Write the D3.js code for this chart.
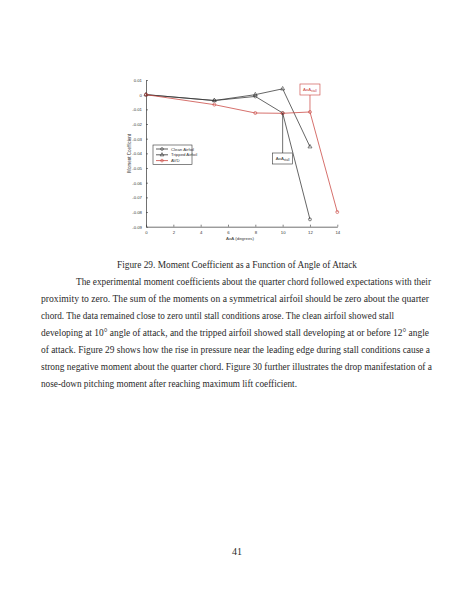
<html>
<head>
    <script src="https://d3js.org/d3.v7.min.js"></script>
    <style>
        body { margin: 0; background: #fff; }
    </style>
</head>

<body>
    <div id="cont"></div>

    <script>
        // data
        var aoa = [0, 5, 8, 10, 12];
        var cleanCm = [0, -0.004, -0.0012, -0.0125, -0.085];
        var trippedCm = [0, -0.004, 0.0, 0.004, -0.0355];
        var aoaAvd = [0, 5, 8, 10, 12, 14];
        var avdCm = [0, -0.0068, -0.0125, -0.0127, -0.0118, -0.080];
        var seriesNames = ["Clean Airfoil", "Tripped Airfoil", "AVD"];
        var xTicks = [0, 2, 4, 6, 8, 10, 12, 14];
        var yTicks = [0.01, 0, -0.01, -0.02, -0.03, -0.04, -0.05, -0.06, -0.07, -0.08, -0.09];
        var stallClean = [10, -0.0125];
        var stallAvd = [12, -0.0118];

        var caption = "Figure 29. Moment Coefficient as a Function of Angle of Attack";
        var paragraph = [
            "The experimental moment coefficients about the quarter chord followed expectations with their",
            "proximity to zero. The sum of the moments on a symmetrical airfoil should be zero about the quarter",
            "chord. The data remained close to zero until stall conditions arose. The clean airfoil showed stall",
            "developing at 10\u00b0 angle of attack, and the tripped airfoil showed stall developing at or before 12\u00b0 angle",
            "of attack. Figure 29 shows how the rise in pressure near the leading edge during stall conditions cause a",
            "strong negative moment about the quarter chord. Figure 30 further illustrates the drop manifestation of a",
            "nose-down pitching moment after reaching maximum lift coefficient."
        ];
        var lineStart = [76, 41, 41, 41, 41, 41, 41];
        var lineEnd = [431, 429, 394, 429, 430, 432, 297];

        var red = "#c8413c";
        var ink = "#333";
        var chartFont = "Liberation Sans, Arial, sans-serif";
        var textFont = "Liberation Serif, Times New Roman, serif";

        var svg = d3.select("#cont").append("svg")
            .attr("width", 474)
            .attr("height", 613);
        svg.append("rect").attr("width", 474).attr("height", 613).attr("fill", "#fff");

        var x = d3.scaleLinear().domain([0, 14]).range([146, 337.3]);
        var y = d3.scaleLinear().domain([-0.09, 0.01]).range([226.7, 80]);

        // axes, matlab style with inward ticks
        svg.append("g")
            .attr("transform", "translate(0," + y(-0.09) + ")")
            .call(d3.axisBottom(x).tickValues(xTicks).tickSizeInner(-2).tickSizeOuter(0).tickPadding(4));
        svg.append("g")
            .attr("transform", "translate(" + x(0) + ",0)")
            .call(d3.axisLeft(y).tickValues(yTicks).tickSizeInner(-2).tickSizeOuter(0).tickPadding(4)
                .tickFormat(function (d) { return d === 0 ? "0" : d.toFixed(2); }));
        svg.selectAll(".domain").attr("stroke", ink).attr("stroke-width", 0.7);
        svg.selectAll(".tick line").attr("stroke", ink).attr("stroke-width", 0.6);
        svg.selectAll(".tick text").attr("font-family", chartFont).attr("font-size", 4.3).attr("fill", ink);

        svg.append("text")
            .attr("transform", "translate(131," + y(-0.04) + ") rotate(-90)")
            .attr("text-anchor", "middle")
            .attr("font-family", chartFont).attr("font-size", 4.5).attr("fill", ink)
            .text("Moment Coefficient");
        svg.append("text")
            .attr("x", 240).attr("y", 240)
            .attr("text-anchor", "middle")
            .attr("font-family", chartFont).attr("font-size", 4.4).attr("fill", ink)
            .text("AoA (degrees)");

        var line = d3.line()
            .x(function (d) { return x(d[0]); })
            .y(function (d) { return y(d[1]); });

        var series = [
            { pts: d3.zip(aoa, cleanCm), color: ink, mark: "circle" },
            { pts: d3.zip(aoa, trippedCm), color: ink, mark: "triangle" },
            { pts: d3.zip(aoaAvd, avdCm), color: red, mark: "circle" }
        ];

        var symbolFor = function (m, s) {
            return d3.symbol().type(m === "circle" ? d3.symbolCircle : d3.symbolTriangle).size(s)();
        };

        series.forEach(function (s) {
            svg.append("path")
                .attr("d", line(s.pts))
                .attr("fill", "none")
                .attr("stroke", s.color)
                .attr("stroke-width", 0.75);
            svg.selectAll(null).data(s.pts).enter().append("path")
                .attr("transform", function (d) { return "translate(" + x(d[0]) + "," + y(d[1]) + ")"; })
                .attr("d", symbolFor(s.mark, 7))
                .attr("fill", "none")
                .attr("stroke", s.color)
                .attr("stroke-width", 0.6);
        });

        // stall annotations
        var annot = function (pt, color, by) {
            var py = y(pt[1]);
            svg.append("line")
                .attr("x1", x(pt[0])).attr("x2", x(pt[0]))
                .attr("y1", py).attr("y2", by < py ? by + 11 : by)
                .attr("stroke", color).attr("stroke-width", 0.7);
            svg.append("rect")
                .attr("x", x(pt[0]) - 10).attr("y", by)
                .attr("width", 20).attr("height", 11)
                .attr("fill", "#fff").attr("stroke", color).attr("stroke-width", 0.6);
            var t = svg.append("text")
                .attr("x", x(pt[0]) - 7).attr("y", by + 6.5)
                .attr("font-family", chartFont).attr("font-size", 4.3).attr("fill", color);
            t.append("tspan").text("AoA");
            t.append("tspan").attr("dy", 1.6).attr("font-size", 3.2).text("stall");
        };
        annot(stallClean, ink, 153);
        annot(stallAvd, red, 84);

        // legend
        var lg = svg.append("g");
        lg.append("rect")
            .attr("x", 153).attr("y", 145).attr("width", 39).attr("height", 19.5)
            .attr("fill", "#fff").attr("stroke", ink).attr("stroke-width", 0.6);
        seriesNames.forEach(function (name, i) {
            var yy = 149 + i * 5.8;
            lg.append("line")
                .attr("x1", 156).attr("x2", 168).attr("y1", yy).attr("y2", yy)
                .attr("stroke", series[i].color).attr("stroke-width", 0.8);
            lg.append("path")
                .attr("transform", "translate(162," + yy + ")")
                .attr("d", symbolFor(series[i].mark, 6))
                .attr("fill", "none").attr("stroke", series[i].color).attr("stroke-width", 0.6);
            lg.append("text")
                .attr("x", 171).attr("y", yy + 1.5)
                .attr("font-family", chartFont).attr("font-size", 4.3).attr("fill", ink)
                .text(name);
        });

        // caption and body text
        svg.append("text")
            .attr("x", 117).attr("y", 268)
            .attr("textLength", 240).attr("lengthAdjust", "spacingAndGlyphs")
            .attr("font-family", textFont).attr("font-size", 10).attr("fill", "#2a2a2a")
            .text(caption);

        svg.selectAll(null).data(paragraph).enter().append("text")
            .attr("x", function (d, i) { return lineStart[i]; })
            .attr("y", function (d, i) { return 285 + i * 17; })
            .attr("textLength", function (d, i) { return lineEnd[i] - lineStart[i]; })
            .attr("lengthAdjust", "spacingAndGlyphs")
            .attr("font-family", textFont).attr("font-size", 10).attr("fill", "#2a2a2a")
            .text(function (d) { return d; });

        svg.append("text")
            .attr("x", 237).attr("y", 555)
            .attr("text-anchor", "middle")
            .attr("font-family", textFont).attr("font-size", 10).attr("fill", "#2a2a2a")
            .text("41");
    </script>
</body>
</html>
